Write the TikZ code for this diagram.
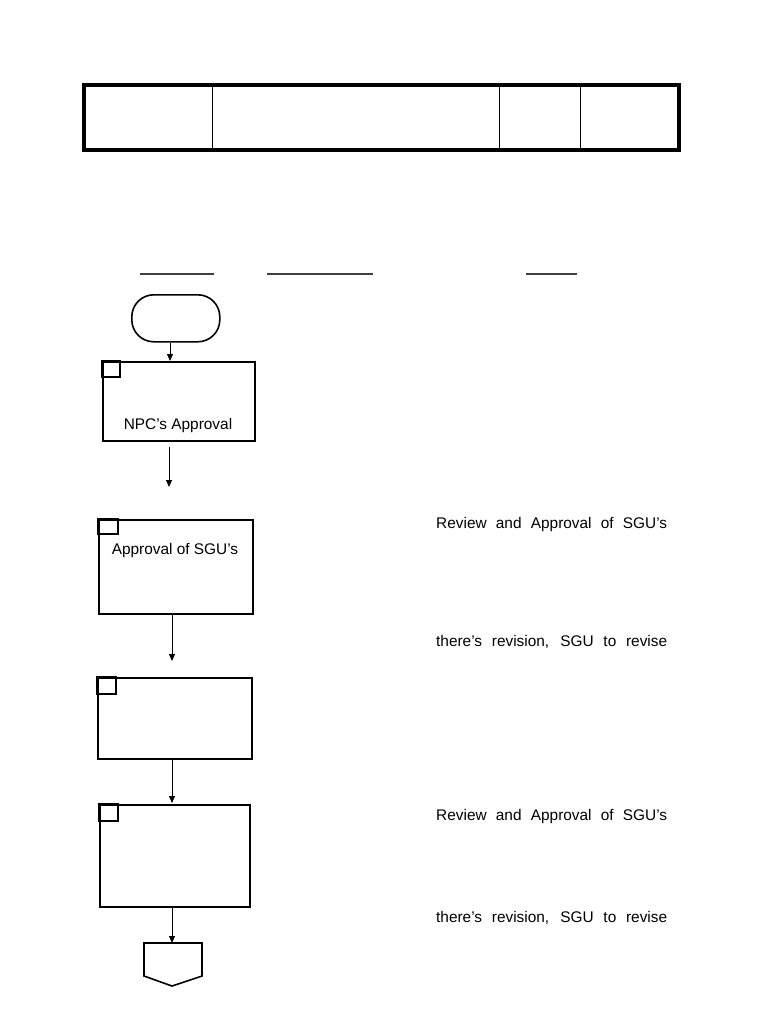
\documentclass[tikz,border=0pt]{standalone}
\usepackage{fontspec}
\setmainfont{Liberation Sans}
\usetikzlibrary{arrows.meta,positioning}
\tikzset{
  stepbox/.style={draw,line width=1.6pt,minimum width=#1,anchor=north west,inner sep=0pt},
  lbl/.style={anchor=base,inner sep=0pt,font=\fontsize{15.4}{18}\selectfont},
  side/.style={anchor=base west,inner sep=0pt,font=\fontsize{15.4}{18}\selectfont},
  flow/.style={line width=1pt,-{Triangle[length=7pt,width=6pt]}}
}
\begin{document}
\begin{tikzpicture}[x=1pt,y=-1pt]
\useasboundingbox (0,0) rectangle (768,1024);
% header table
\draw[line width=3.5pt] (84,85) rectangle (679,150);
\draw[line width=1pt] (212,85) -- (212,150);
\draw[line width=1pt] (499,85) -- (499,150);
\draw[line width=1pt] (580,85) -- (580,150);
% column rules
\draw[line width=1.3pt,black!75] (140,274) -- (214,274);
\draw[line width=1.3pt,black!75] (267,274) -- (373,274);
\draw[line width=1.3pt,black!75] (526,274) -- (577,274);

\node[draw,line width=1.6pt,rounded corners=22pt,minimum width=88,minimum height=47,anchor=north west] (start) at (131,294) {};

\node[stepbox=152,minimum height=79] (npc) at (102,361) {};
\draw[line width=1.3pt] (npc.north west) rectangle ++(18,16);
\node[lbl] (npctxt) at (178,429) {NPC’s Approval};

\node[stepbox=154,minimum height=94] (sgu) at (98,519) {};
\draw[line width=1.3pt] (sgu.north west) rectangle ++(20,15);
\node[lbl] (sgutxt) at (175,554) {Approval of SGU’s};

\node[stepbox=154,minimum height=81] (rev) at (97,677) {};
\draw[line width=1.3pt] (rev.north west) rectangle ++(19,17);

\node[stepbox=150,minimum height=102] (fin) at (99,804) {};
\draw[line width=1.3pt] (fin.north west) rectangle ++(19,17);

% off-page connector
\coordinate (opc) at (172,943);
\draw[line width=1.6pt,line join=miter] (144,943) -- (202,943) -- (202,976) -- (172,986) -- (144,976) -- cycle;

% arrows
\coordinate (a0) at (170,361);
\coordinate (a1) at (169,487);
\coordinate (a2) at (172,661);
\coordinate (a3) at (172,803);
\draw[flow] (start.south -| a0) -- (a0);
\draw[flow] ([yshift=-5pt]npc.south -| a1) -- (a1);
\draw[flow] (sgu.south -| a2) -- (a2);
\draw[flow] (rev.south -| a3) -- (a3);
\draw[flow] (fin.south -| opc) -- (opc);

% side notes
\node[side] (n1) at (436,528) {\makebox[231pt][s]{Review and Approval of SGU’s}};
\node[side] (n2) at (436,646) {\makebox[231pt][s]{there’s revision, SGU to revise}};
\node[side] (n3) at (436,820) {\makebox[231pt][s]{Review and Approval of SGU’s}};
\node[side] (n4) at (436,922) {\makebox[231pt][s]{there’s revision, SGU to revise}};
\end{tikzpicture}
\end{document}
